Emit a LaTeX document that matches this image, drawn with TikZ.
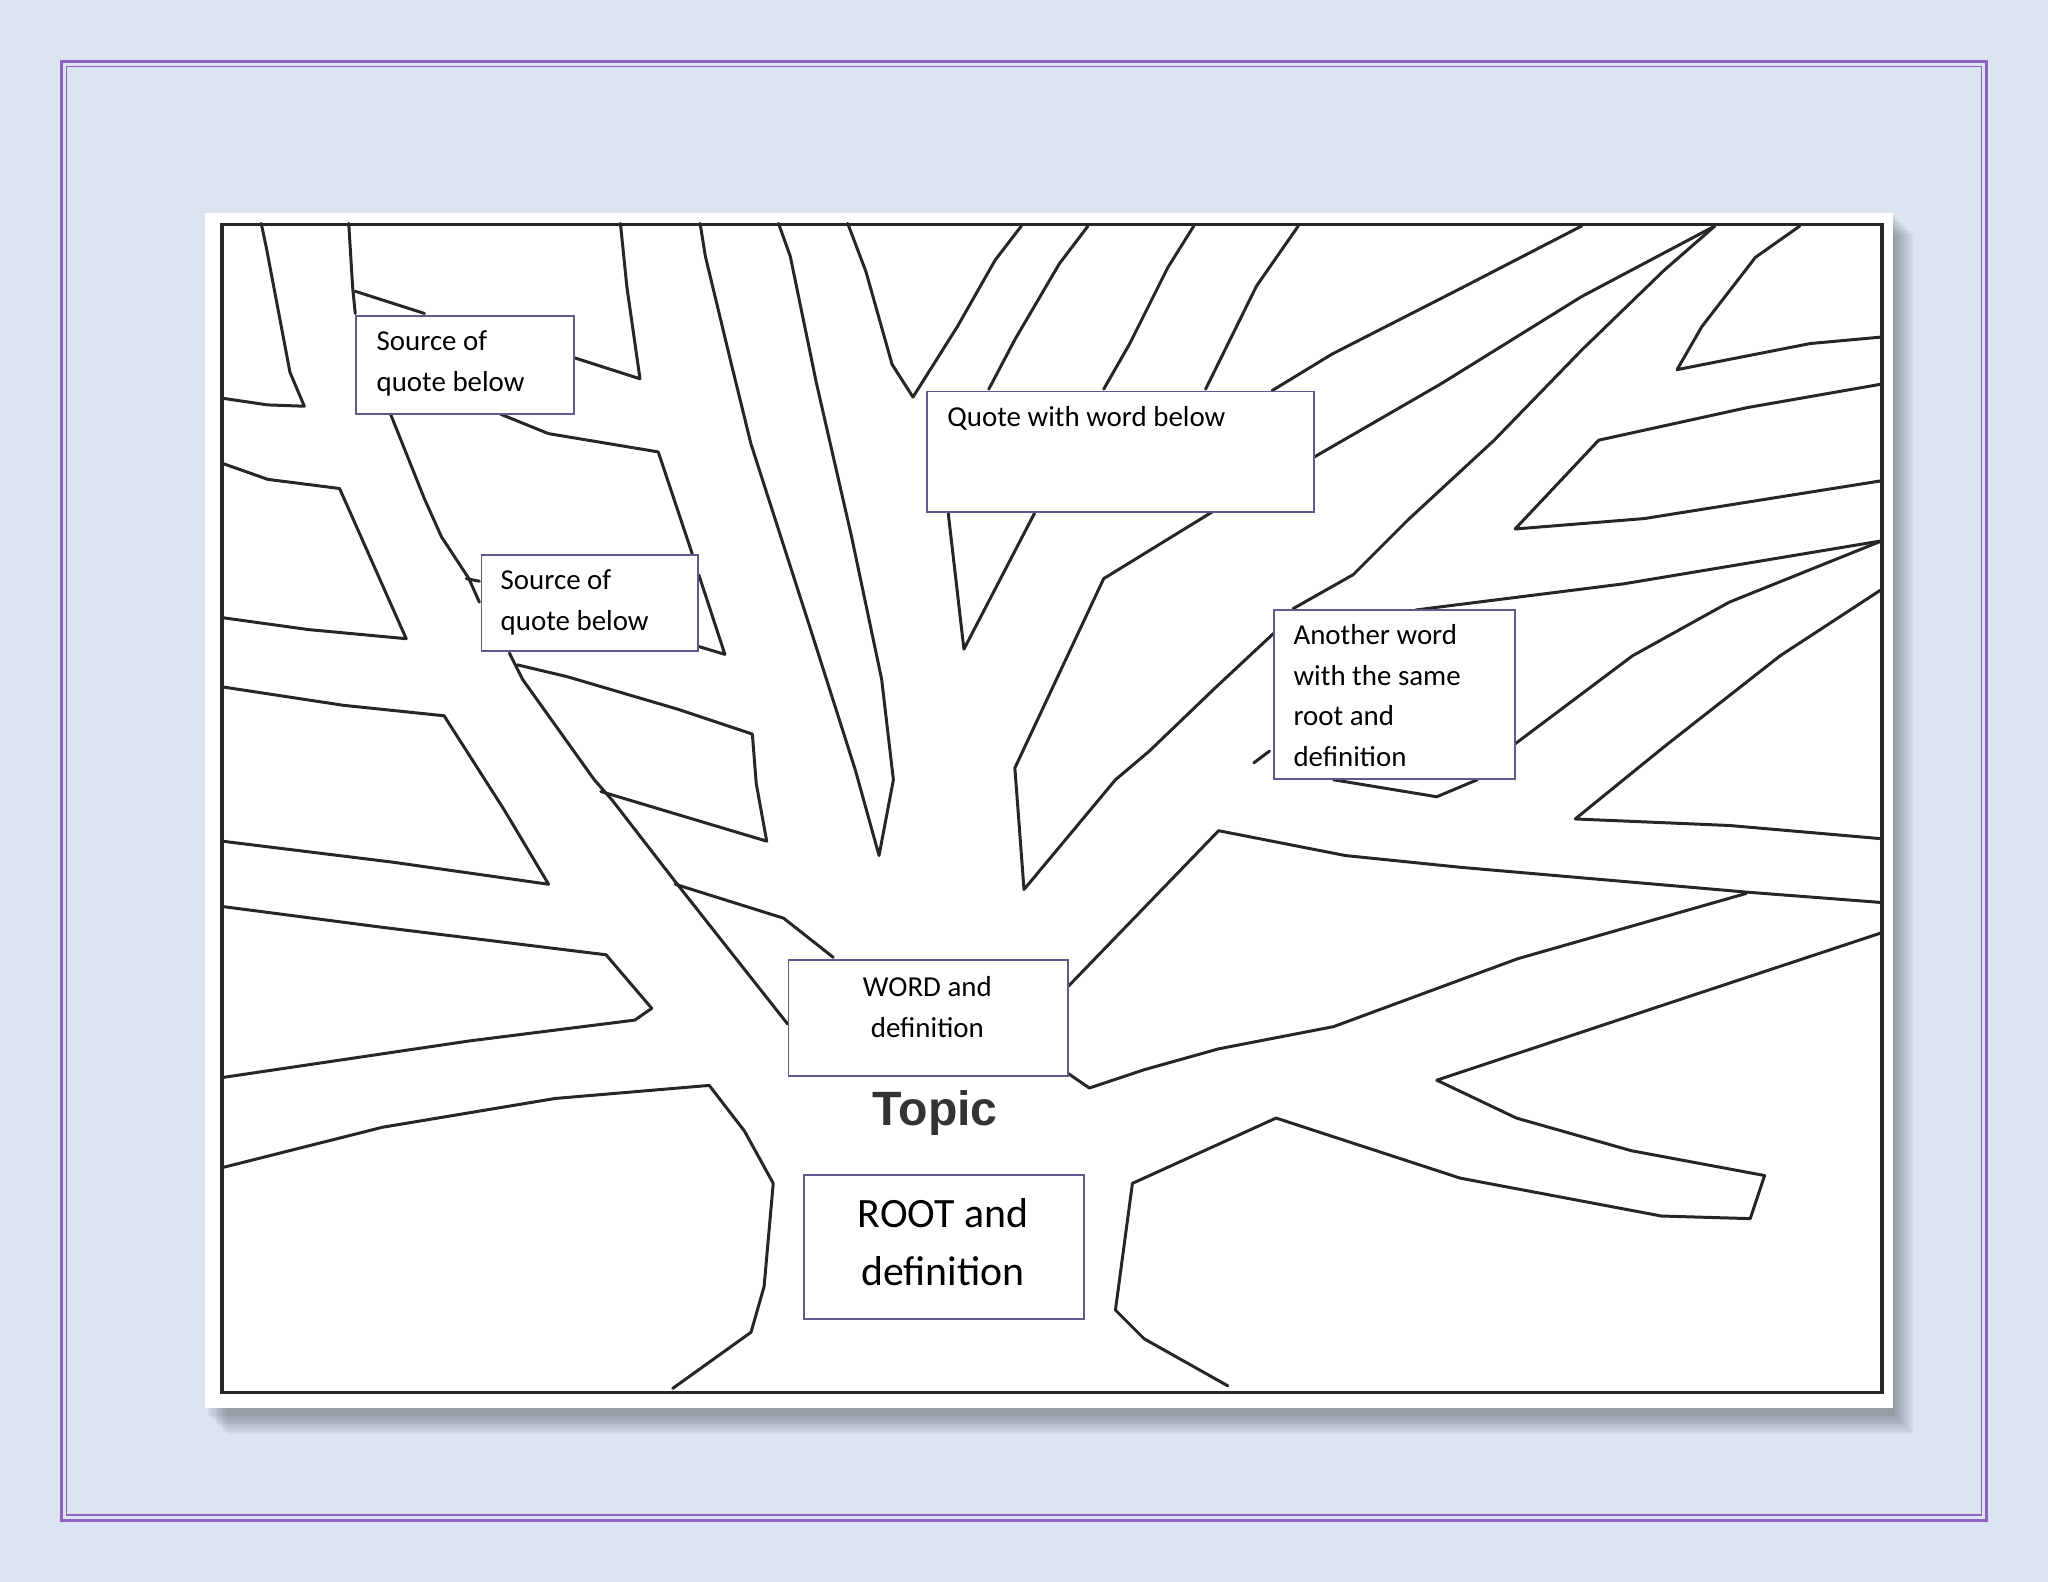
\documentclass[tikz,border=0pt]{standalone}
\usepackage{fontspec}
\setmainfont{Carlito}
\newfontfamily\topicfont{Liberation Sans}
\begin{document}
\begin{tikzpicture}[x=0.02cm,y=-0.02cm,
  tree/.style={line width=1.3pt,line join=round,line cap=round,black!85},
  lbox/.style={draw=boxc,line width=0.8pt,fill=white,inner sep=0pt,anchor=north west},
  ltext/.style={anchor=north west,align=left,inner sep=0pt,font=\fontsize{12.6}{17.6}\selectfont},
  ctext/.style={align=center,inner sep=0pt,font=\fontsize{12.6}{17.6}\selectfont}]
\definecolor{bgc}{HTML}{DCE4F2}
\definecolor{frc}{HTML}{9061C2}
\definecolor{boxc}{HTML}{5E5A8F}
\useasboundingbox (0,0) rectangle (1568,1211);
\fill[bgc] (0,0) rectangle (1568,1211);
\draw[frc,line width=1.2pt] (47,47) rectangle (1521,1164);
\draw[frc,line width=0.6pt] (51,51) rectangle (1517,1160);
% shadow
\foreach \i in {1,...,8}{
  \fill[black,opacity=0.045] (157+2*\i,163+2*\i) rectangle (1449+2*\i,1078+2*\i+4);
}
\fill[white] (157,163) rectangle (1449,1078);
% tree
\begin{scope}[tree]
\draw (200,171)--(204,190)--(222,285)--(233,311)--(205,310)--(171,305);
\draw (267,171)--(270,220)--(272,240);
\draw (272,223)--(325,240);
\draw (475,171)--(480,220)--(490,290)--(440,274);
\draw (299,317)--(325,382)--(338,411)--(359,443)--(367,461);
\draw (357,443)--(367,445);
\draw (383,317)--(420,332)--(504,346)--(530,424);
\draw (535,495)--(555,501)--(535,440);
\draw (171,355)--(205,367)--(260,374)--(311,489)--(236,482)--(171,473);
\draw (171,526)--(263,540)--(340,548)--(386,620)--(420,677)--(300,660)--(170,644);
\draw (390,500)--(400,520)--(455,597)--(469,613)--(517,675)--(603,784);
\draw (396,509)--(434,518)--(519,543)--(576,562)--(579,600)--(587,644)--(460,606);
\draw (517,677)--(600,703)--(638,733);
\draw (170,694)--(293,710)--(464,731)--(499,772)--(486,781)--(359,797)--(170,825);
\draw (170,894)--(293,863)--(425,841)--(543,831)--(570,866)--(592,906)--(585,985)--(575,1020)--(515,1063);
% central spike
\draw (536,171)--(540,196)--(560,279)--(575,340)--(620,480)--(655,590)--(673,655)--(684,597)--(675,520)--(652,411)--(625,293)--(605,196)--(596,171);
\draw (649,171)--(663,208)--(683,279)--(699,304)--(733,250)--(762,199)--(782,173);
\draw (833,173)--(811,202)--(777,260)--(757,298);
\draw (726,393)--(738,497)--(792,393);
\draw (914,173)--(894,205)--(865,263)--(845,298);
\draw (994,173)--(962,219)--(923,298);
\draw (928,392)--(845,443)--(777,588)--(784,681)--(854,597)--(880,575)--(930,527)--(975,485);
\draw (1211,173)--(1116,222)--(1020,271)--(974,299);
\draw (1313,173)--(1211,227)--(1103,294)--(1006,350);
\draw (1313,173)--(1274,207)--(1211,268)--(1144,337)--(1078,398)--(1036,440)--(990,466);
\draw (1378,173)--(1344,197)--(1303,250)--(1284,283)--(1386,263)--(1441,258);
\draw (1441,294)--(1338,312)--(1224,337)--(1160,405)--(1259,397)--(1441,368);
\draw (1441,414)--(1243,447)--(1084,467);
\draw (1441,414)--(1324,461)--(1250,502)--(1158,571);
\draw (1441,451)--(1363,502)--(1275,571)--(1206,627)--(1324,632)--(1439,642);
\draw (960,584)--(972,575);
\draw (1021,597)--(1100,610)--(1131,597);
\draw (818,755)--(933,636)--(1030,655)--(1118,664)--(1337,683)--(1441,691);
\draw (818,822)--(834,833)--(876,819)--(933,803)--(1021,786)--(1162,734)--(1337,684);
\draw (1441,714)--(1293,763)--(1100,827)--(1161,856)--(1249,881)--(1351,900)--(1340,933)--(1272,931)--(1118,902)--(977,856)--(867,906)--(854,1003)--(876,1025)--(940,1061);
\end{scope}
\draw[black!85,line width=1.6pt] (170,172) rectangle (1441,1066);
% boxes
\node[lbox,minimum width=167*0.02cm,minimum height=75*0.02cm] (b1) at (272,241) {};
\node[ltext] (t1) at (288,253) {Source of\\quote below};
\node[lbox,minimum width=166*0.02cm,minimum height=74*0.02cm] (b2) at (368,424) {};
\node[ltext] (t2) at (383,436) {Source of\\quote below};
\node[lbox,minimum width=296*0.02cm,minimum height=92*0.02cm] (b3) at (709,299) {};
\node[ltext] (t3) at (725,311) {Quote with word below};
\node[lbox,minimum width=184*0.02cm,minimum height=130*0.02cm] (b4) at (975,466) {};
\node[ltext] (t4) at (990,478) {Another word\\with the same\\root and\\definition};
\node[lbox,minimum width=214*0.02cm,minimum height=89*0.02cm] (b5) at (603,734) {};
\node[ctext] (t5) at (710,771) {WORD and\\definition};
\node[lbox,minimum width=214*0.02cm,minimum height=110*0.02cm] (b6) at (615,899) {};
\node[align=center,inner sep=0pt,font=\fontsize{18.2}{25.6}\selectfont] (t6) at (722,951) {ROOT and\\definition};
\node[font=\topicfont\bfseries\fontsize{21}{24}\selectfont,text=black!80] (topic) at (716,852) {Topic};
\end{tikzpicture}
\end{document}
